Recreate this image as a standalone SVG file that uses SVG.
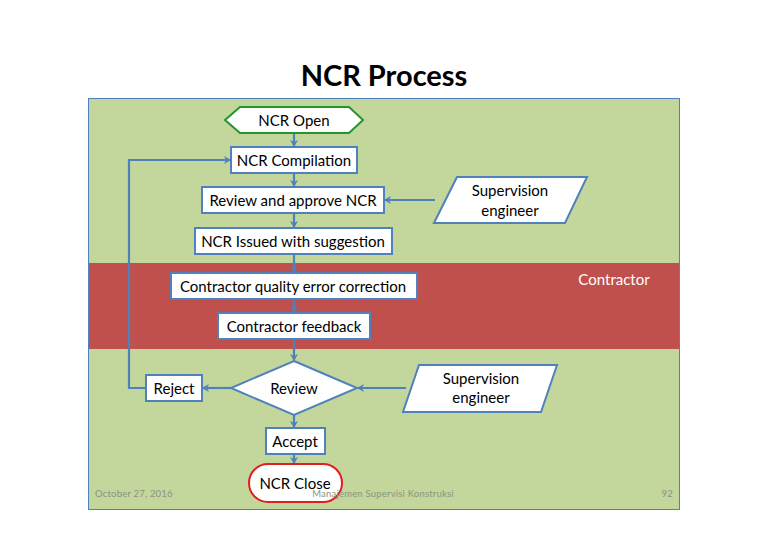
<svg xmlns="http://www.w3.org/2000/svg" width="768" height="543" viewBox="0 0 768 543">
<defs>
<marker id="ah" markerWidth="8" markerHeight="8" refX="6" refY="4" orient="auto" markerUnits="userSpaceOnUse">
<path d="M0,0 L7,4 L0,8 L2,4 Z" fill="#4f81bd"/>
</marker>
<style>
.box{fill:#fff;stroke:#4f81bd;stroke-width:2}
.t{font-family:Lato,"Open Sans","Liberation Sans",sans-serif;font-size:15px;fill:#000;text-anchor:middle}
.c{fill:none;stroke:#4f81bd;stroke-width:2.2;marker-end:url(#ah)}
.f{font-family:Lato,"Liberation Sans",sans-serif;font-size:9.5px;fill:#8a9480;letter-spacing:0.2px}
</style>
</defs>
<rect width="768" height="543" fill="#fff"/>
<text x="384" y="86" font-family="Lato,'Open Sans','Liberation Sans',sans-serif" font-size="29" font-weight="bold" text-anchor="middle" fill="#000">NCR Process</text>
<g id="lanes">
<rect x="88.5" y="98.5" width="591" height="411" fill="#c3d69b" stroke="#4f81bd" stroke-width="1"/>
<rect x="89" y="263" width="590" height="86" fill="#c0504d"/>
<text x="614" y="285" font-family="Lato,'Liberation Sans',sans-serif" font-size="15" fill="#fff" text-anchor="middle">Contractor</text>
</g>
<g id="connectors">
<line class="c" x1="294" y1="133" x2="294" y2="146"/>
<line class="c" x1="294" y1="173" x2="294" y2="186"/>
<line class="c" x1="294" y1="213" x2="294" y2="227"/>
<line class="c" x1="294" y1="254" x2="294" y2="272"/>
<line class="c" x1="294" y1="299" x2="294" y2="312"/>
<line class="c" x1="294" y1="339" x2="294" y2="360"/>
<line class="c" x1="294" y1="415" x2="294" y2="427"/>
<line class="c" x1="294" y1="454" x2="294" y2="463"/>
<line class="c" x1="435" y1="200" x2="385" y2="200"/>
<line class="c" x1="406" y1="388" x2="358" y2="388"/>
<line class="c" x1="231" y1="388" x2="203" y2="388"/>
<polyline class="c" points="146,388 129,388 129,160 230,160"/>
</g>
<g id="ncr-open">
<polygon points="225,120 240,107 349,107 363,120 349,133 240,133" fill="#fff" stroke="#23952f" stroke-width="2"/>
<text class="t" x="294" y="125.5">NCR Open</text>
</g>
<g id="ncr-compilation">
<rect class="box" x="231" y="147" width="126" height="26"/>
<text class="t" x="294" y="165.5">NCR Compilation</text>
</g>
<g id="review-approve">
<rect class="box" x="202" y="187" width="182" height="26"/>
<text class="t" x="293" y="205.5">Review and approve NCR</text>
</g>
<g id="supervision-1">
<polygon class="box" points="457,177 587,177 565,223 434,223"/>
<text class="t" x="510" y="195.5">Supervision</text>
<text class="t" x="510" y="215.5">engineer</text>
</g>
<g id="ncr-issued">
<rect class="box" x="195" y="228" width="197" height="26"/>
<text class="t" x="293" y="246.5">NCR Issued with suggestion</text>
</g>
<g id="contractor-correction">
<rect class="box" x="171" y="273" width="246" height="26"/>
<text class="t" x="293" y="291.5">Contractor quality error correction</text>
</g>
<g id="contractor-feedback">
<rect class="box" x="218" y="313" width="152" height="26"/>
<text class="t" x="294" y="331.5">Contractor feedback</text>
</g>
<g id="review">
<polygon class="box" points="294,361 357,388 294,415 231,388"/>
<text class="t" x="294" y="393.5">Review</text>
</g>
<g id="supervision-2">
<polygon class="box" points="419,365 557,365 541,412 403,412"/>
<text class="t" x="481" y="383.5">Supervision</text>
<text class="t" x="481" y="402.5">engineer</text>
</g>
<g id="reject">
<rect class="box" x="146" y="375" width="56" height="26"/>
<text class="t" x="174" y="393.5">Reject</text>
</g>
<g id="accept">
<rect class="box" x="266" y="428" width="59" height="26"/>
<text class="t" x="295" y="446.5">Accept</text>
</g>
<g id="ncr-close">
<rect x="249" y="464" width="93" height="38" rx="19" fill="#fff" stroke="#e0201c" stroke-width="2"/>
<text class="t" x="295" y="488.5">NCR Close</text>
</g>
<g id="footer">
<text class="f" x="95" y="497">October 27, 2016</text>
<text class="f" x="383" y="497" text-anchor="middle">Manajemen Supervisi Konstruksi</text>
<text class="f" x="673" y="497" text-anchor="end">92</text>
</g>
</svg>
